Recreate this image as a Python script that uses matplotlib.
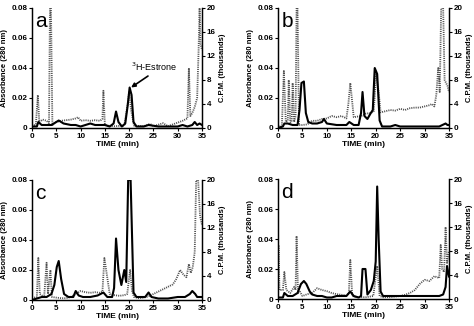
import matplotlib
matplotlib.use("Agg")
import matplotlib.pyplot as plt

plt.rcParams['font.family'] = ['Liberation Sans', 'DejaVu Sans']

# ---------------- data ----------------
panel_letters = ["a", "b", "c", "d"]
x_ticks = [0, 5, 10, 15, 20, 25, 30, 35]
abs_ticks = [0, 0.02, 0.04, 0.06, 0.08]
abs_tick_labels = ["0", "0.02", "0.04", "0.06", "0.08"]
cpm_ticks = [0, 4, 8, 12, 16, 20]

# Panel a
a_abs_t = [0, 1, 1.3, 2, 3, 4, 5, 5.5, 6.5, 8, 9, 10, 11, 12, 13, 14, 15, 16, 16.8, 17.3, 17.8, 18.5, 19.2, 19.7, 20.1, 20.5, 20.9, 21.5, 23, 24, 26, 28, 30, 31, 32, 33, 33.5, 34, 34.5, 35]
a_abs_v = [0.001, 0.001, 0.004, 0.002, 0.002, 0.002, 0.004, 0.005, 0.003, 0.002, 0.002, 0.001, 0.002, 0.003, 0.002, 0.002, 0.002, 0.001, 0.003, 0.011, 0.004, 0.001, 0.003, 0.015, 0.027, 0.022, 0.004, 0.001, 0.001, 0.002, 0.001, 0.001, 0.001, 0.002, 0.001, 0.002, 0.004, 0.002, 0.003, 0.002]
a_cpm_t = [0, 0.8, 1.2, 1.5, 2.2, 3, 3.5, 3.7, 3.9, 4.2, 5, 6, 7, 8, 9, 9.5, 10, 11, 12, 13, 14, 14.5, 14.7, 15, 15.5, 17, 19, 19.7, 20, 20.4, 21, 23, 24.3, 25, 27, 28, 30, 31, 32, 32.3, 32.6, 33, 33.5, 34, 34.3, 34.5, 34.7, 35]
a_cpm_v = [0.3, 0.6, 5.5, 1.0, 1.4, 1.2, 0.8, 20, 20, 0.5, 1.0, 1.2, 1.3, 1.4, 1.6, 1.8, 1.2, 1.3, 1.2, 1.3, 1.2, 1.5, 6.2, 0.6, 0.4, 0.3, 0.4, 4.0, 6.0, 3.0, 0.4, 0.3, 0.7, 0.3, 0.8, 0.3, 0.9, 1.2, 1.6, 10.0, 2.0, 2.5, 3.5, 5.0, 13.0, 20, 14.0, 13.0]

# Panel b
b_abs_t = [0, 1, 1.3, 2, 3, 4, 4.4, 4.8, 5.3, 5.7, 6.2, 7, 8, 9, 9.4, 10, 12, 14, 14.6, 15.5, 16.5, 17, 17.3, 17.7, 18.3, 19, 19.4, 19.8, 20.3, 20.8, 21.3, 23, 24, 25, 28, 31, 33, 34.3, 34.7, 35]
b_abs_v = [0, 0.001, 0.003, 0.003, 0.002, 0.002, 0.012, 0.030, 0.031, 0.010, 0.004, 0.003, 0.003, 0.004, 0.006, 0.003, 0.002, 0.002, 0.004, 0.002, 0.002, 0.010, 0.024, 0.008, 0.006, 0.010, 0.012, 0.040, 0.036, 0.005, 0.001, 0.001, 0.002, 0.001, 0.001, 0.001, 0.001, 0.003, 0.002, 0.002]
b_cpm_t = [0, 0.8, 1.2, 1.6, 2.0, 2.2, 2.5, 2.8, 3.0, 3.3, 3.6, 3.8, 4.0, 4.3, 5, 6, 7, 8, 9, 10, 11, 12, 13, 14, 14.4, 14.8, 15.5, 17, 18, 19, 19.6, 20.1, 20.6, 21, 22, 23, 24, 25, 26, 27, 28, 29, 30, 31, 31.5, 32, 32.4, 32.8, 33.1, 33.4, 33.8, 34.1, 34.4, 34.7, 35]
b_cpm_v = [0, 0.5, 9.5, 1.0, 1.2, 8.0, 1.0, 1.0, 7.5, 1.0, 2.0, 20, 20, 0.5, 0.5, 0.6, 1.2, 1.2, 1.5, 1.6, 2.0, 1.8, 2.0, 1.6, 4.0, 7.5, 1.8, 2.0, 2.4, 2.5, 2.8, 9.0, 6.0, 2.6, 2.8, 3.0, 2.9, 3.2, 3.0, 3.3, 3.4, 3.4, 3.6, 3.8, 4.0, 3.6, 5.5, 10.0, 6.0, 20, 20, 8.0, 7.5, 7.0, 6.0]

# Panel c
c_abs_t = [0, 1, 2, 3, 4, 4.6, 5.1, 5.5, 6.0, 6.6, 7.5, 8.5, 9, 9.6, 10.5, 12, 13.5, 14.7, 15.5, 16.5, 16.9, 17.3, 17.8, 18.4, 19.0, 19.4, 19.8, 20.3, 20.9, 21.5, 23.3, 24, 24.6, 26, 28, 30, 31.5, 32.5, 33, 33.6, 34, 35]
c_abs_v = [0, 0.001, 0.002, 0.002, 0.004, 0.010, 0.022, 0.026, 0.014, 0.004, 0.002, 0.002, 0.006, 0.003, 0.002, 0.002, 0.003, 0.005, 0.002, 0.002, 0.008, 0.041, 0.020, 0.010, 0.020, 0.012, 0.080, 0.080, 0.005, 0.002, 0.002, 0.005, 0.002, 0.001, 0.001, 0.002, 0.002, 0.004, 0.006, 0.004, 0.002, 0.002]
c_cpm_t = [0, 1.0, 1.3, 1.6, 2.5, 3.0, 3.3, 3.8, 4.1, 5, 6, 7, 8, 9, 10, 11, 12, 13, 14, 14.5, 14.9, 16, 17, 18, 19, 19.6, 20.2, 20.6, 21, 22, 23, 24, 25, 26, 27, 28, 29, 29.7, 30.5, 31.2, 31.8, 32.3, 32.7, 33.1, 33.5, 33.8, 34.2, 34.6, 35]
c_cpm_v = [0.3, 0.5, 7.0, 1.0, 0.5, 6.2, 1.0, 5.0, 0.5, 0.4, 0.3, 0.3, 0.5, 1.0, 1.5, 1.3, 1.2, 1.3, 1.2, 1.4, 7.0, 1.0, 0.8, 0.7, 0.8, 1.0, 5.0, 1.5, 0.5, 0.3, 0.4, 0.6, 1.0, 1.4, 1.8, 2.2, 2.6, 3.5, 5.0, 4.2, 3.8, 6.0, 4.5, 5.5, 8.0, 20, 20, 14.0, 12.5]

# Panel d
d_abs_t = [0, 1, 1.3, 2, 3, 4, 4.7, 5.3, 5.8, 6.5, 7, 8, 9, 10, 11, 12, 13, 14, 14.8, 15.5, 16.5, 17.0, 17.3, 17.9, 18.3, 19.0, 19.6, 20.0, 20.3, 20.6, 21.0, 21.5, 23, 25, 27, 29, 31, 33, 33.8, 34.3, 34.6, 35]
d_abs_v = [0.001, 0.001, 0.004, 0.002, 0.002, 0.004, 0.010, 0.012, 0.010, 0.005, 0.003, 0.002, 0.002, 0.001, 0.001, 0.002, 0.002, 0.002, 0.005, 0.002, 0.001, 0.002, 0.020, 0.020, 0.003, 0.006, 0.012, 0.025, 0.075, 0.040, 0.005, 0.002, 0.002, 0.002, 0.002, 0.002, 0.002, 0.002, 0.003, 0.008, 0.022, 0.015]
d_cpm_t = [0, 0.1, 0.3, 1.0, 1.3, 1.7, 2.5, 3.3, 3.6, 3.8, 4.1, 4.5, 5, 6, 7, 8, 9, 10, 11, 12, 13, 14, 14.5, 14.8, 15.2, 16, 18, 19.5, 20.3, 20.8, 21.5, 23, 25, 26, 27, 28, 29, 30, 31, 32, 33, 33.3, 33.6, 34.0, 34.3, 34.6, 35]
d_cpm_v = [1.5, 9.0, 1.5, 1.5, 4.5, 1.5, 1.0, 2.0, 1.5, 10.5, 1.0, 1.2, 0.5, 0.8, 1.0, 1.8, 1.5, 1.3, 1.0, 0.8, 0.7, 0.6, 1.0, 6.5, 0.5, 0.3, 0.3, 0.5, 5.5, 0.5, 0.3, 0.3, 0.5, 0.7, 1.0, 1.5, 2.5, 3.2, 3.0, 3.8, 3.5, 9.0, 5.0, 4.5, 12.0, 6.0, 8.0]

abs_times = [a_abs_t, b_abs_t, c_abs_t, d_abs_t]
abs_vals = [a_abs_v, b_abs_v, c_abs_v, d_abs_v]
cpm_times = [a_cpm_t, b_cpm_t, c_cpm_t, d_cpm_t]
cpm_vals = [a_cpm_v, b_cpm_v, c_cpm_v, d_cpm_v]

# ---------------- layout ----------------
W, H = 474, 326
fig = plt.figure(figsize=(W / 100, H / 100), dpi=100)
# (left, top, right, bottom) in pixels
boxes = [(32, 8, 202, 128), (278, 8, 449, 128), (32, 180, 202, 300), (278, 179, 449, 299)]

tick_font = dict(fontsize=5.8, fontweight='bold')
for i, (l, t, r, b) in enumerate(boxes):
    ax = fig.add_axes([l / W, 1 - b / H, (r - l) / W, (b - t) / H])
    ax2 = ax.twinx()
    ax2.plot(cpm_times[i], cpm_vals[i], color='#505050', lw=1.3, ls=(0, (0.6, 0.6)))
    ax.plot(abs_times[i], abs_vals[i], color='black', lw=1.5)
    ax.set_zorder(ax2.get_zorder() + 1)
    ax.patch.set_visible(False)

    ax.set_xlim(0, 35)
    ax.set_ylim(0, 0.08)
    ax2.set_ylim(0, 20)
    ax.set_xticks(x_ticks)
    ax.set_xticklabels([str(v) for v in x_ticks], **tick_font)
    ax.set_yticks(abs_ticks)
    ax.set_yticklabels(abs_tick_labels, **tick_font)
    ax2.set_yticks(cpm_ticks)
    ax2.set_yticklabels([str(v) for v in cpm_ticks], **tick_font)
    for a_ in (ax, ax2):
        a_.tick_params(length=2, width=0.8, pad=1.5)
        a_.spines['top'].set_visible(False)
        for s in ('left', 'right', 'bottom'):
            a_.spines[s].set_linewidth(0.9)
    ax.set_xlabel("TIME (min)", fontsize=6, fontweight='bold', labelpad=1)
    ax.set_ylabel("Absorbance (280 nm)", fontsize=5.5, fontweight='bold', labelpad=2)
    ax2.set_ylabel("C.P.M. (thousands)", fontsize=5.5, fontweight='bold', labelpad=2)
    ax.text(0.02, 0.97, panel_letters[i], transform=ax.transAxes, fontsize=15,
            va='top', ha='left')
    if i == 0:
        ax.annotate("$^{3}$H-Estrone", xy=(20.4, 0.027), xytext=(25.2, 0.0365),
                    fontsize=6.5, ha='center', va='bottom',
                    arrowprops=dict(arrowstyle='-|>', color='black', lw=1.2,
                                    mutation_scale=6, shrinkA=0, shrinkB=0,
                                    relpos=(0.45, 0.0)))

fig.savefig("out.png", dpi=100)
